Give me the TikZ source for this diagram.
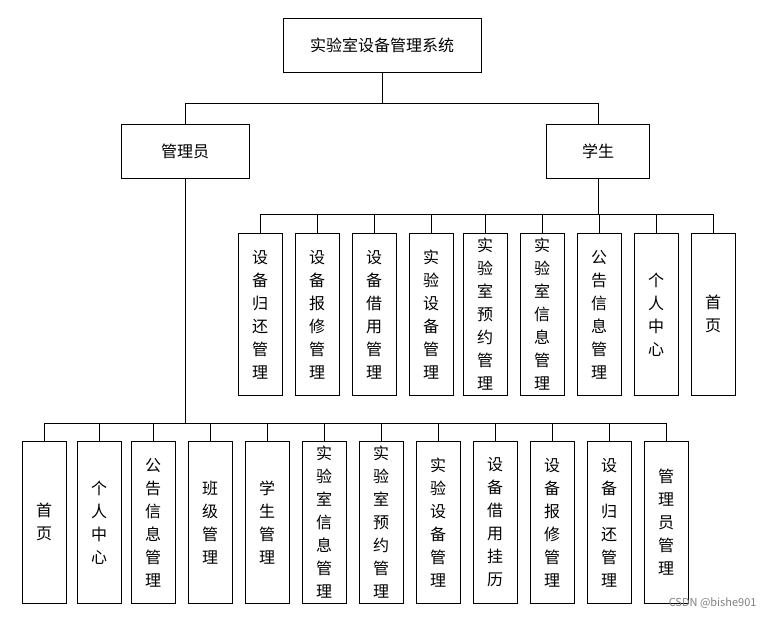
\documentclass[tikz,border=0pt]{standalone}
\usepackage{fontspec}
\newfontfamily\cjk{Noto Sans CJK SC}
\begin{document}
\begin{tikzpicture}[x=1pt,y=-1pt,
  box/.style={draw,line width=0.8pt,font=\cjk\fontsize{16}{20}\selectfont,inner sep=0pt},
  vbox/.style={draw,line width=0.8pt,font=\cjk\fontsize{16}{23}\selectfont,minimum width=44pt,minimum height=162pt,align=center,inner sep=0pt,anchor=north},
  ln/.style={line width=0.8pt}]
\useasboundingbox (0,0) rectangle (773,617);
\node[box,minimum width=198pt,minimum height=54pt] (root) at (382,45) {实验室设备管理系统};
\node[box,minimum width=128pt,minimum height=54pt] (adm) at (185,151) {管理员};
\node[box,minimum width=103pt,minimum height=54pt] (stu) at (598,151) {学生};
\coordinate (j0) at (382,103);
\draw[ln] (root.south) -- (j0);
\draw[ln] (adm.north) |- (stu.north |- j0) -- (stu.north);
\foreach \x/\t [count=\i] in {260/设\\备\\归\\还\\管\\理,317/设\\备\\报\\修\\管\\理,374/设\\备\\借\\用\\管\\理,431/实\\验\\设\\备\\管\\理,485/实\\验\\室\\预\\约\\管\\理,542/实\\验\\室\\信\\息\\管\\理,599/公\\告\\信\\息\\管\\理,656/个\\人\\中\\心,713/首\\页}{
  \node[vbox] (s\i) at (\x,233) {\t};
  \coordinate (sj\i) at (\x,214);
  \draw[ln] (sj\i) -- (s\i.north);
}
\coordinate (sh) at (598,214);
\draw[ln] (stu.south) -- (sh);
\draw[ln] (sj1) -- (sj9);
\foreach \x/\t [count=\i] in {44/首\\页,99/个\\人\\中\\心,153/公\\告\\信\\息\\管\\理,210/班\\级\\管\\理,267/学\\生\\管\\理,324/实\\验\\室\\信\\息\\管\\理,381/实\\验\\室\\预\\约\\管\\理,438/实\\验\\设\\备\\管\\理,495/设\\备\\借\\用\\挂\\历,552/设\\备\\报\\修\\管\\理,609/设\\备\\归\\还\\管\\理,666/管\\理\\员\\管\\理}{
  \node[vbox] (a\i) at (\x,441) {\t};
  \coordinate (aj\i) at (\x,423);
  \draw[ln] (aj\i) -- (a\i.north);
}
\coordinate (ah) at (185,423);
\draw[ln] (adm.south) -- (ah);
\draw[ln] (aj1) -- (aj12);
\node[font=\cjk\fontsize{11}{12}\selectfont,text=gray,anchor=east] (wm) at (760,603) {CSDN @bishe901};
\end{tikzpicture}
\end{document}
